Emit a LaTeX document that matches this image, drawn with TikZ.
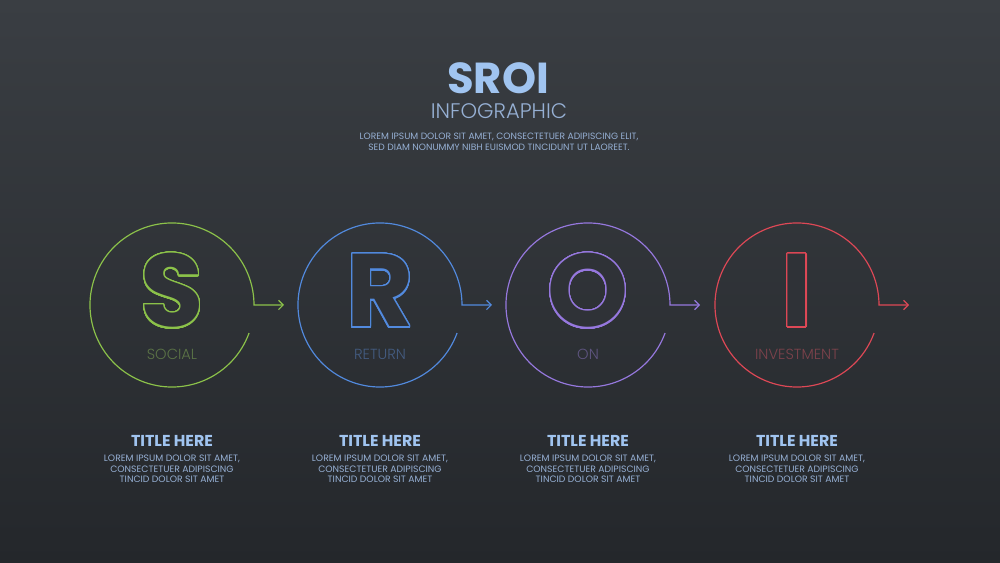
\documentclass[tikz,border=0pt]{standalone}
\usepackage{fontspec}
\setmainfont{Poppins}
\newfontfamily\thinfont{Poppins Light}
\usepackage{contour}
\contourlength{1.1pt}
\contournumber{64}
\usetikzlibrary{arrows.meta}
\usetikzlibrary{positioning}

\definecolor{bgtop}{RGB}{58,62,67}
\definecolor{bgbot}{RGB}{36,39,43}
\colorlet{letterbg}{bgtop!48!bgbot}
\definecolor{titleblue}{RGB}{160,196,240}
\definecolor{textblue}{RGB}{150,176,212}
\definecolor{socialc}{RGB}{140,194,74}
\definecolor{returnc}{RGB}{82,138,222}
\definecolor{onc}{RGB}{150,120,222}
\definecolor{investc}{RGB}{222,72,86}

\tikzset{
  ring/.style={line width=1pt, -{Straight Barb[length=4pt,width=8pt]}},
  bigletter/.style={font=\bfseries\fontsize{88}{88}\selectfont, text=letterbg,
    anchor=base, inner sep=0pt, text depth=0pt},
  wordlabel/.style={font=\thinfont\fontsize{12.5}{12.5}\selectfont},
  steptitle/.style={font=\bfseries\fontsize{13.5}{13.5}\selectfont, text=titleblue},
  stepbody/.style={font=\fontsize{7.9}{8.9}\selectfont, text=textblue, align=center}
}

\begin{document}
\begin{tikzpicture}[x=0.03cm, y=0.03cm, on grid, node distance=0.84cm]
  \shade[top color=bgtop, bottom color=bgbot] (0,0) rectangle (1000,563);

  % heading
  \node[font=\bfseries\fontsize{37}{37}\selectfont, text=titleblue] (head) at (498,485) {SROI};
  \node[font=\thinfont\fontsize{18}{18}\selectfont, text=textblue] (sub) at (499,452) {INFOGRAPHIC};
  \node[font=\fontsize{7.8}{9.6}\selectfont, text=textblue, align=center] (intro) at (499,421)
    {LOREM IPSUM DOLOR SIT AMET, CONSECTETUER ADIPISCING ELIT,\\
     SED DIAM NONUMMY NIBH EUISMOD TINCIDUNT UT LAOREET.};

  % four steps
  \foreach \cx/\ltr/\word/\col/\nm in {172/S/SOCIAL/socialc/s, 380/R/RETURN/returnc/r,
      588/O/ON/onc/o, 797/I/INVESTMENT/investc/i} {
    \coordinate (\nm-c) at (\cx,258);
    \coordinate (\nm-out) at (\cx+112,258);
    \draw[ring, \col] ([shift={(-20:82)}]\nm-c) arc[start angle=-20, end angle=-360, radius=82]
      -- (\nm-out);
    \node[bigletter] (\nm-ltr) at (\cx,236) {\contour{\col}{\ltr}};
    \node[wordlabel, text=\col!40!bgtop] (\nm-word) at (\cx,209) {\word};
    \node[steptitle] (\nm-title) at (\cx,122) {TITLE HERE};
    \node[stepbody] (\nm-body) [below=of \nm-title]
      {LOREM IPSUM DOLOR SIT AMET,\\ CONSECTETUER ADIPISCING\\ TINCID DOLOR SIT AMET};
  }
\end{tikzpicture}
\end{document}
